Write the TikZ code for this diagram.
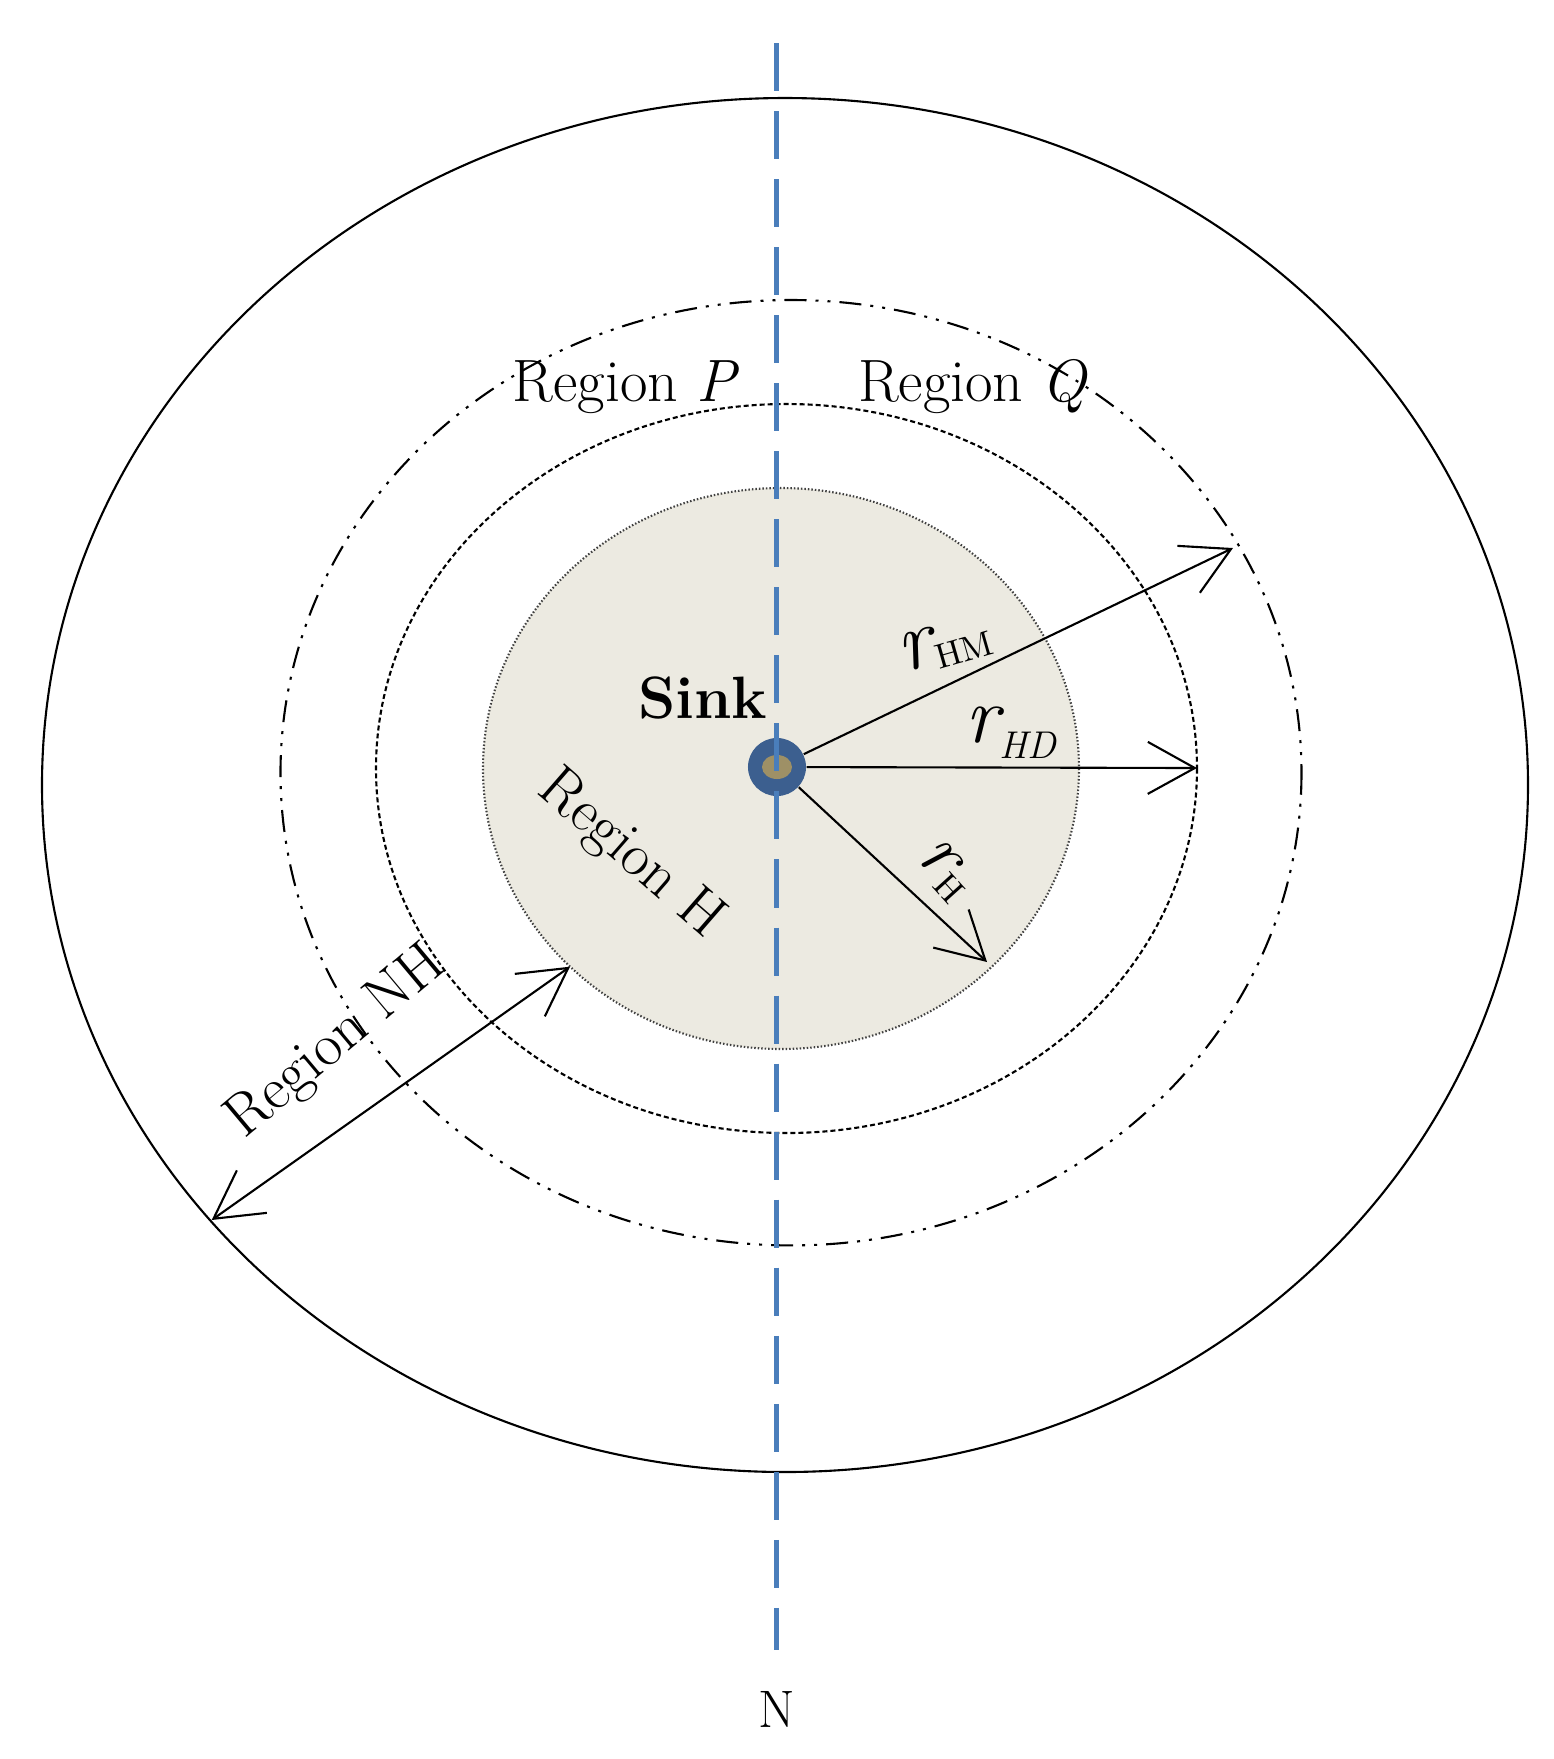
\documentclass[tikz,border=0pt]{standalone}
\usepackage{fontspec}
\usetikzlibrary{arrows.meta}
\definecolor{shadefill}{HTML}{ECEAE1}
\definecolor{nblue}{HTML}{4A7EBB}
\definecolor{sinkblue}{HTML}{3C5F8F}
\definecolor{sinkcore}{HTML}{9E9066}
\begin{document}
\begin{tikzpicture}[x=0.01cm,y=-0.01cm,
  ring/.style={line width=0.6pt},
  ringdashdot/.style={ring, dash pattern=on 0.22cm off 0.09cm on 0.03cm off 0.09cm on 0.03cm off 0.09cm},
  ringfine/.style={ring, dash pattern=on 0.05cm off 0.03cm},
  barb/.tip={Straight Barb[length=0.47cm,width=0.52cm]},
  radarrow/.style={line width=0.6pt, -barb},
  lbl/.style={inner sep=0pt, font=\fontsize{17}{20}\selectfont},
  axisline/.style={nblue, line width=1.7pt, dash pattern=on 0.48cm off 0.2cm},
]
\useasboundingbox (0,0) rectangle (1554,1759);
% rings
\draw[ring] (785,785) ellipse [x radius=743, y radius=687];
\draw[ringdashdot] (791,772.7) ellipse [x radius=510.5, y radius=472.7];
\draw[ringfine] (786.5,768.5) ellipse [x radius=410.5, y radius=364.5];
\filldraw[fill=shadefill, draw=black!75, line width=0.6pt, dash pattern=on 0.015cm off 0.02cm] (781,768.5) ellipse [x radius=298, y radius=280.5];
% sink
\node[circle, fill=sinkblue, minimum size=0.58cm, inner sep=0pt] (sink) at (777,767) {};
\fill[sinkcore] (sink.center) ellipse [x radius=15, y radius=12];
% axis
\coordinate (axtop) at (776.5,43);
\coordinate (axbot) at (776.5,1650);
\draw[axisline] (axtop) -- (axbot);
% radii
\coordinate (hm) at (1233,548);
\coordinate (hd) at (1197,768);
\coordinate (h) at (987,962);
\draw[radarrow] (sink) -- (hm);
\draw[radarrow] (sink) -- (hd);
\draw[radarrow] (sink) -- (h);
% region NH
\coordinate (nhout) at (211.7,1220);
\coordinate (nhin) at (570,966.7);
\draw[line width=0.6pt, barb-barb] (nhout) -- (nhin);
% labels
\node[lbl, anchor=base] (rp) at (626,401.7) {Region \textit{P}};
\node[lbl, anchor=base] (rq) at (973,401.7) {Region \textit{Q}};
\node[inner sep=0pt, anchor=base, font=\fontsize{17}{20}\selectfont\bfseries] (sinklbl) at (702.5,718) {Sink};
\node[lbl, rotate=-41] (rh) at (630,855) {Region H};
\node[lbl, rotate=40] (rnh) at (337,1043) {Region NH};
\node[inner sep=0pt, anchor=base, font=\fontsize{15}{18}\selectfont] (nlbl) at (776.5,1727) {N};
\node[inner sep=0pt, rotate=16] (lhm) at (945,645) {\fontsize{24}{24}\selectfont\itshape r\raisebox{-0.08em}{\fontsize{10}{10}\selectfont\upshape HM}};
\node[inner sep=0pt] (lhd) at (1011,733) {\fontsize{23}{23}\selectfont\itshape r\raisebox{-0.2em}{\fontsize{11}{11}\selectfont HD}};
\node[inner sep=0pt, rotate=-48] (lh) at (945,870) {\fontsize{22}{22}\selectfont\itshape r\raisebox{-0.1em}{\fontsize{10}{10}\selectfont\upshape H}};
\end{tikzpicture}
\end{document}
